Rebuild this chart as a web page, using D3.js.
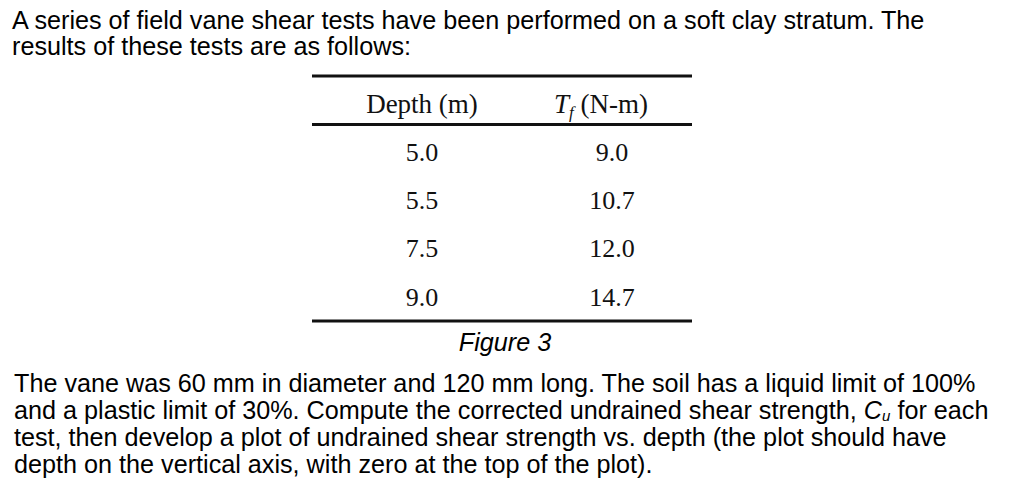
<!DOCTYPE html>
<html>
<head>
<meta charset="utf-8">
<script src="https://cdn.jsdelivr.net/npm/d3@7"></script>
<style>
html,body{margin:0;padding:0;background:#fff;}
svg{display:block;}
</style>
</head>
<body>
<svg id="c" width="1024" height="502"></svg>
<script>
const introLines = [
  "A series of field vane shear tests have been performed on a soft clay stratum. The",
  "results of these tests are as follows:"
];
const columns = ["depth", "torque"];
const depths = ["5.0", "5.5", "7.5", "9.0"];
const torques = ["9.0", "10.7", "12.0", "14.7"];
const figureLabel = "Figure 3";
const outroLines = [
  [{t:"The vane was 60 mm in diameter and 120 mm long. The soil has a liquid limit of 100%"}],
  [{t:"and a plastic limit of 30%. Compute the corrected undrained shear strength, "},{t:"C",i:true},{t:"u",i:true,sub:true},{t:" for each"}],
  [{t:"test, then develop a plot of undrained shear strength vs. depth (the plot should have"}],
  [{t:"depth on the vertical axis, with zero at the top of the plot)."}]
];

const svg = d3.select("#c");
const sans = "'Liberation Sans', Arial, sans-serif";
const serif = "'Liberation Serif', 'Times New Roman', serif";
const bodySize = 25.2;

// intro text
const introY = d3.scaleLinear().domain([0,1]).range([29, 55]);
svg.selectAll("text.intro").data(introLines).join("text")
  .attr("class","intro")
  .attr("x", 12).attr("y", (d,i)=>introY(i))
  .attr("font-family", sans).attr("font-size", bodySize).attr("fill","#000")
  .text(d=>d);

// table
const x = d3.scalePoint().domain(columns).range([422, 612]);
const tableLeft = 312, tableRight = 692;
const rows = depths.map((d,i)=>({depth:d, torque:torques[i]}));
const y = d3.scalePoint().domain(d3.range(rows.length)).range([160.5, 305.5]);

function rule(yy){
  svg.append("line").attr("x1", tableLeft).attr("x2", tableRight)
    .attr("y1", yy).attr("y2", yy).attr("stroke","#111").attr("stroke-width", 3);
}
rule(76); rule(124.5); rule(321);

// header
const hdr = svg.append("g").attr("font-family", serif).attr("font-size", 27).attr("fill","#111");
hdr.append("text").attr("x", x("depth")).attr("y", 113).attr("text-anchor","middle").text("Depth (m)");
const th = hdr.append("text").attr("x", x("torque") - 11).attr("y", 113).attr("text-anchor","middle");
th.append("tspan").attr("font-style","italic").text("T");
th.append("tspan").attr("font-style","italic").attr("font-size", 17).attr("dy", 5).text("f");
th.append("tspan").attr("dy", -5).text(" (N-m)");

// rows
const g = svg.append("g").attr("font-family", serif).attr("font-size", 26).attr("fill","#111");
g.selectAll("text.d").data(rows).join("text").attr("class","d")
  .attr("x", x("depth")).attr("y", (d,i)=>y(i)).attr("text-anchor","middle").text(d=>d.depth);
g.selectAll("text.t").data(rows).join("text").attr("class","t")
  .attr("x", x("torque")).attr("y", (d,i)=>y(i)).attr("text-anchor","middle").text(d=>d.torque);

// figure label
svg.append("text").attr("x", 505).attr("y", 351).attr("text-anchor","middle")
  .attr("font-family", sans).attr("font-style","italic").attr("font-size", bodySize).text(figureLabel);

// outro
const outY = d3.scaleLinear().domain([0,1]).range([391.5, 418.7]);
outroLines.forEach((parts,i)=>{
  const t = svg.append("text").attr("x", 14).attr("y", outY(i))
    .attr("font-family", sans).attr("font-size", bodySize).attr("fill","#000");
  let lastSub = false;
  parts.forEach(p=>{
    const s = t.append("tspan").text(p.t);
    if(p.i) s.attr("font-style","italic");
    if(p.sub) s.attr("font-size", 15).attr("dy", 2.5);
    else if(lastSub) s.attr("dy", -2.5);
    lastSub = !!p.sub;
  });
});
</script>
</body>
</html>
